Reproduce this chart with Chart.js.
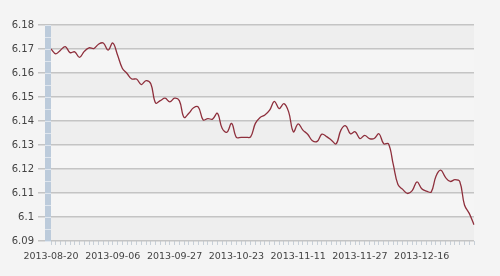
<!DOCTYPE html>
<html lang="en">
<head>
<meta charset="UTF-8">
<script src="https://cdn.jsdelivr.net/npm/chart.js"></script>
<style>
    html, body { margin: 0; padding: 0; background: #f4f4f4; }
    .wrap { width: 500px; height: 276px; position: relative; }
</style>
</head>
<body>
<div class="wrap"><canvas id="rateChart"></canvas></div>
<script>
    // trading days, Aug 20 - Dec 31 2013
    const dates = [
        '2013-08-20','2013-08-21','2013-08-22','2013-08-23','2013-08-26','2013-08-27','2013-08-28','2013-08-29','2013-08-30',
        '2013-09-02','2013-09-03','2013-09-04','2013-09-05','2013-09-06','2013-09-09','2013-09-10','2013-09-11','2013-09-12',
        '2013-09-13','2013-09-16','2013-09-17','2013-09-18','2013-09-23','2013-09-24','2013-09-25','2013-09-26','2013-09-27',
        '2013-09-30','2013-10-08','2013-10-09','2013-10-10','2013-10-11','2013-10-14','2013-10-15','2013-10-16','2013-10-17',
        '2013-10-18','2013-10-21','2013-10-22','2013-10-23','2013-10-24','2013-10-25','2013-10-28','2013-10-29','2013-10-30',
        '2013-10-31','2013-11-01','2013-11-04','2013-11-05','2013-11-06','2013-11-07','2013-11-08','2013-11-11','2013-11-12',
        '2013-11-13','2013-11-14','2013-11-15','2013-11-18','2013-11-19','2013-11-20','2013-11-21','2013-11-22','2013-11-25',
        '2013-11-26','2013-11-26','2013-11-27','2013-11-28','2013-11-29','2013-12-02','2013-12-03','2013-12-04','2013-12-05',
        '2013-12-06','2013-12-09','2013-12-10','2013-12-11','2013-12-12','2013-12-13','2013-12-16','2013-12-17','2013-12-18',
        '2013-12-19','2013-12-20','2013-12-23','2013-12-24','2013-12-25','2013-12-26','2013-12-27','2013-12-30','2013-12-31'
    ];
    const rates = [
        6.1700, 6.1680, 6.1695, 6.1710, 6.1685, 6.1688, 6.1665, 6.1690, 6.1705, 6.1702,
        6.1720, 6.1725, 6.1695, 6.1725, 6.1675, 6.1620, 6.1598, 6.1575, 6.1575, 6.1552,
        6.1568, 6.1555, 6.1475, 6.1485, 6.1495, 6.1480, 6.1495, 6.1485, 6.1415, 6.1432,
        6.1455, 6.1458, 6.1405, 6.1410, 6.1408, 6.1432, 6.1370, 6.1353, 6.1390, 6.1332,
        6.1332, 6.1332, 6.1334, 6.1390, 6.1415, 6.1425, 6.1445, 6.1482, 6.1452, 6.1472,
        6.1438, 6.1355, 6.1388, 6.1362, 6.1345, 6.1318, 6.1315, 6.1345, 6.1335, 6.1320,
        6.1305, 6.1362, 6.1380, 6.1347, 6.1355, 6.1327, 6.1340, 6.1327, 6.1327, 6.1347,
        6.1305, 6.1305, 6.1220, 6.1135, 6.1115, 6.1098, 6.1110, 6.1146, 6.1118, 6.1108,
        6.1104, 6.1170, 6.1195, 6.1165, 6.1148, 6.1156, 6.1148, 6.1050, 6.1015, 6.0968
    ];
    const yMin = 6.09;
    const yMax = 6.18;
    const yStep = 0.01;
    const labelEvery = 13;

    // striped background and the blue wall on the left
    const backdrop = {
        id: 'backdrop',
        beforeDraw(chart) {
            const { ctx, chartArea: a, scales: { y } } = chart;
            ctx.save();
            for (let v = yMax, k = 0; v > yMin + 0.0001; v -= yStep, k++) {
                const top = y.getPixelForValue(v);
                const bot = y.getPixelForValue(v - yStep);
                ctx.fillStyle = k % 2 === 0 ? '#eeeeee' : '#f5f5f5';
                ctx.fillRect(a.left, top, a.right - a.left, bot - top);
            }
            ctx.restore();
        },
        beforeDatasetsDraw(chart) {
            const { ctx, chartArea: a, scales: { y } } = chart;
            ctx.save();
            ctx.fillStyle = '#bccbdb';
            ctx.fillRect(a.left - 6, a.top, 6, a.bottom - a.top);
            ctx.strokeStyle = '#dfe6ee';
            ctx.lineWidth = 1;
            for (let v = yMin; v < yMax + 0.0001; v += yStep / 2) {
                const py = Math.round(y.getPixelForValue(v)) + 0.5;
                ctx.beginPath();
                ctx.moveTo(a.left - 6, py);
                ctx.lineTo(a.left, py);
                ctx.stroke();
            }
            ctx.restore();
        }
    };

    Chart.defaults.font.family = '"DejaVu Sans", Verdana, sans-serif';
    Chart.defaults.font.size = 9;
    Chart.defaults.color = '#444';

    const ctx = document.getElementById('rateChart').getContext('2d');
    const rateChart = new Chart(ctx, {
        type: 'line',
        data: {
            labels: dates,
            datasets: [{
                data: rates,
                borderColor: '#8e2f3c',
                borderWidth: 1.3,
                pointRadius: 0,
                tension: 0.4,
                fill: false
            }]
        },
        options: {
            responsive: true,
            maintainAspectRatio: false,
            animation: false,
            layout: { padding: { top: 25, right: 26, left: 0, bottom: 0 } },
            plugins: {
                legend: { display: false },
                tooltip: { enabled: false }
            },
            scales: {
                x: {
                    offset: false,
                    grid: { display: true, drawOnChartArea: false, tickLength: 4, color: '#c8d0d8' },
                    border: { display: false },
                    ticks: {
                        autoSkip: false,
                        maxRotation: 0,
                        padding: 6,
                        font: { size: 9.5 },
                        callback: (v, i) => i % labelEvery === 0 ? dates[i] : ''
                    },
                    afterFit: s => { s.height = 35; }
                },
                y: {
                    min: yMin,
                    max: yMax,
                    grid: { color: '#c4c4c4', lineWidth: 1.5, tickLength: 13 },
                    border: { display: false },
                    ticks: {
                        stepSize: yStep,
                        padding: 4,
                        font: { size: 10 },
                        callback: v => +v.toFixed(2)
                    },
                    afterFit: s => { s.width = 51; }
                }
            }
        },
        plugins: [backdrop]
    });
</script>
</body>
</html>
